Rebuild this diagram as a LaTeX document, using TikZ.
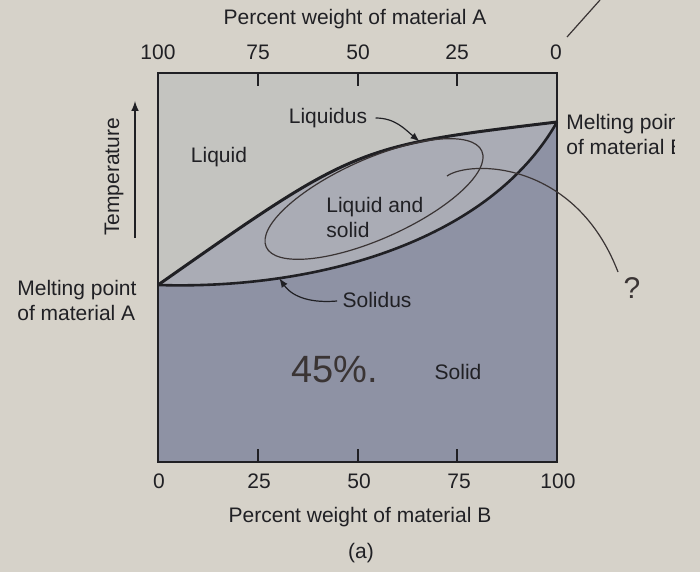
\documentclass[tikz,border=0pt]{standalone}
\usepackage{fontspec}
\setmainfont{Liberation Sans}
\usepackage{tikz}
\usetikzlibrary{arrows}
\definecolor{paper}{RGB}{214,210,201}
\definecolor{liquidgray}{RGB}{196,196,192}
\definecolor{mixgray}{RGB}{170,172,181}
\definecolor{solidblue}{RGB}{142,146,164}
\definecolor{ink}{RGB}{32,32,36}
\definecolor{pen}{RGB}{58,52,52}
\tikzset{
	lbl/.style={text=ink, font=\fontsize{10.5}{12.5}\selectfont, inner sep=0pt},
	phaseline/.style={color=ink, line width=1.3pt},
	penline/.style={color=pen, line width=0.6pt},
}

\begin{document}
\begin{tikzpicture}[x=0.5pt,y=-0.5pt]
		\useasboundingbox (0,0) rectangle (700,572);
		\fill[paper] (0,0) rectangle (700,572);
		
		% regions
		\coordinate (mA) at (158,285);
		\coordinate (mB) at (557,122);
		\fill[liquidgray] (158,73) rectangle (557,462);
		\fill[solidblue] (mA) .. controls (320,290) and (490,240) .. (mB) -- (557,462) -- (158,462) -- cycle;
		\fill[mixgray] (mA) .. controls (356,146) .. (mB) .. controls (490,240) and (320,290) .. (mA) -- cycle;
		
		% liquidus and solidus
		\draw[phaseline, line width=1.5pt] (mA) .. controls (356,146) .. (mB) coordinate[pos=0.7] (liqpt);
		\draw[phaseline] (mA) .. controls (320,290) and (490,240) .. (mB) coordinate[pos=0.25] (solpt);
		
		% frame and ticks
		\draw[color=ink, line width=0.8pt] (158,73) rectangle (557,462);
		\draw[color=ink, line width=0.7pt] (258,73) -- (258,86);
		\draw[color=ink, line width=0.7pt] (358,73) -- (358,86);
		\draw[color=ink, line width=0.7pt] (457,73) -- (457,86);
		\draw[color=ink, line width=0.7pt] (258,462) -- (258,449);
		\draw[color=ink, line width=0.7pt] (358,462) -- (358,449);
		\draw[color=ink, line width=0.7pt] (457,462) -- (457,449);
		
		% top axis
		\node[lbl] (titleA) at (355,19) {Percent weight of material A};
		\node[lbl] (a100) at (158,52) {100};
		\node[lbl] (a75) at (258,52) {75};
		\node[lbl] (a50) at (358,52) {50};
		\node[lbl] (a25) at (457,52) {25};
		\node[lbl] (a0) at (556,52) {0};
		
		% bottom axis
		\node[lbl] (b0) at (159,481) {0};
		\node[lbl] (b25) at (259,481) {25};
		\node[lbl] (b50) at (359,481) {50};
		\node[lbl] (b75) at (459,481) {75};
		\node[lbl] (b100) at (558,481) {100};
		\node[lbl] (titleB) at (360,517) {Percent weight of material B};
		\node[lbl] (caption) at (361,553) {(a)};
		
		% temperature
		\node[lbl, rotate=90] (temp) at (114,177) {Temperature};
		\coordinate (tlow) at (135,238);
		\coordinate (thigh) at (135,101);
		\draw[->,>=latex, color=ink, line width=0.7pt] (tlow) -- (thigh);
		
		% melting points (right one cut off at the page edge)
		\node[lbl, anchor=west, align=left] (meltA) at (17,300) {Melting point\\of material A};
		\begin{scope}
			\clip (0,0) rectangle (674,572);
			\node[lbl, anchor=west, align=left] (meltB) at (566,134) {Melting point\\of material B};
		\end{scope}
		
		% phase labels
		\node[lbl] (liquid) at (219,157) {Liquid};
		\node[lbl, anchor=west, align=left] (mix) at (326,217) {Liquid and\\solid};
		\node[lbl] (solid) at (458,372) {Solid};
		\node[lbl] (liquidus) at (328,118) {Liquidus};
		\node[lbl] (solidus) at (377,300) {Solidus};
		\draw[->,>=latex, color=ink, line width=0.6pt] (liquidus.east) ++(8,0) to[out=0,in=140] (liqpt);
		\draw[->,>=latex, color=ink, line width=0.6pt] (solidus.west) ++(-5,1) to[out=185,in=-55] (solpt);
		
		% pen marks
		\draw[penline, rotate around={24:(374,199)}] (374,199) ellipse [x radius=118, y radius=40];
		\coordinate (hookA) at (447,176);
		\coordinate (hookB) at (618,272);
		\draw[penline] (hookA) .. controls (470,160) and (575,160) .. (hookB);
		\node[text=pen, font=\fontsize{15}{15}\selectfont] (quest) at (632,288) {?};
		\coordinate (slashA) at (567,37);
		\coordinate (slashB) at (600,0);
		\draw[penline] (slashA) -- (slashB);
		\node[text=pen, font=\fontsize{19}{19}\selectfont] (pct) at (335,369) {45\%.};
	\end{tikzpicture}
\end{document}
